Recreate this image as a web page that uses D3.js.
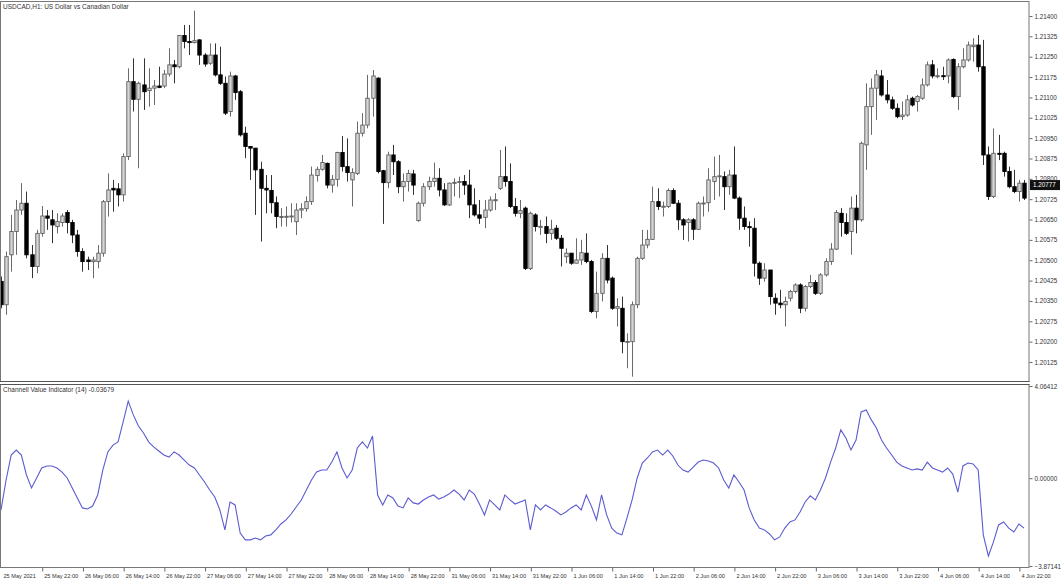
<!DOCTYPE html>
<html><head><meta charset="utf-8">
<script src="https://cdn.jsdelivr.net/npm/d3@7"></script>
<style>
body{margin:0;background:#fff}
svg{display:block}
text{font-family:"Liberation Sans",Arial,sans-serif;fill:#333}
</style>
</head><body>
<svg id="chart" width="1062" height="587"></svg>
<script>
const symbolTitle = "USDCAD,H1:  US Dollar vs Canadian Dollar";
const indicatorTitle = "Channell Value Indicator (14) -0.03679";
const lastPrice = 1.20777;

const opens = [1.20422,1.20336,1.20520,1.20606,1.20685,1.20710,1.20520,1.20477,1.20599,1.20663,
1.20649,1.20624,1.20639,1.20676,1.20639,1.20593,1.20532,1.20501,1.20495,1.20495,
1.20526,1.20716,1.20765,1.20763,1.20741,1.20882,1.21158,1.21093,1.21146,1.21125,
1.21134,1.21142,1.21142,1.21186,1.21220,1.21213,1.21328,1.21306,1.21302,1.21312,
1.21256,1.21226,1.21256,1.21183,1.21152,1.21048,1.21179,1.21121,1.20968,1.20919,
1.20913,1.20835,1.20765,1.20757,1.20712,1.20661,1.20661,1.20662,1.20642,1.20685,
1.20690,1.20716,1.20812,1.20835,1.20857,1.20777,1.20798,1.20897,1.20845,1.20796,
1.20820,1.20968,1.20998,1.21097,1.21171,1.20830,1.20786,1.20888,1.20863,1.20771,
1.20790,1.20818,1.20646,1.20710,1.20771,1.20790,1.20802,1.20759,1.20704,1.20784,
1.20787,1.20790,1.20777,1.20704,1.20667,1.20658,1.20685,1.20722,1.20765,1.20808,
1.20790,1.20698,1.20673,1.20692,1.20470,1.20667,1.20624,1.20624,1.20599,1.20618,
1.20581,1.20513,1.20526,1.20489,1.20501,1.20526,1.20495,1.20311,1.20378,1.20507,
1.20434,1.20323,1.20323,1.20200,1.20200,1.20336,1.20507,1.20556,1.20577,1.20716,
1.20698,1.20698,1.20757,1.20710,1.20649,1.20639,1.20649,1.20614,1.20710,1.20712,
1.20790,1.20808,1.20808,1.20771,1.20814,1.20729,1.20655,1.20624,1.20618,1.20489,
1.20434,1.20464,1.20360,1.20342,1.20336,1.20360,1.20385,1.20409,1.20323,1.20403,
1.20418,1.20378,1.20446,1.20495,1.20541,1.20673,1.20639,1.20606,1.20692,1.20649,
1.20925,1.21066,1.21134,1.21179,1.21109,1.21091,1.21060,1.21029,1.21035,1.21097,
1.21085,1.21097,1.21146,1.21220,1.21179,1.21180,1.21179,1.21240,1.21103,1.21213,
1.21238,1.21287,1.21293,1.21213,1.20888,1.20735,1.20894,1.20894,1.20827,1.20771,
1.20753,1.20784];

const highs = [1.20440,1.20532,1.20667,1.20722,1.20784,1.20753,1.20556,1.20612,1.20700,1.20685,
1.20685,1.20673,1.20673,1.20685,1.20649,1.20612,1.20544,1.20513,1.20513,1.20556,
1.20722,1.20820,1.20796,1.20784,1.20894,1.21207,1.21244,1.21158,1.21244,1.21207,
1.21164,1.21213,1.21201,1.21281,1.21238,1.21330,1.21367,1.21367,1.21420,1.21314,
1.21263,1.21299,1.21299,1.21287,1.21177,1.21195,1.21183,1.21127,1.20992,1.20919,
1.20913,1.20863,1.20814,1.20814,1.20735,1.20692,1.20698,1.20710,1.20710,1.20710,
1.20735,1.20845,1.20845,1.20888,1.20860,1.20814,1.20900,1.20958,1.20949,1.20839,
1.21011,1.21042,1.21183,1.21201,1.21174,1.20833,1.20900,1.20925,1.20869,1.20820,
1.20833,1.20833,1.20716,1.20784,1.20808,1.20860,1.20839,1.20784,1.20786,1.20802,
1.20808,1.20814,1.20833,1.20765,1.20722,1.20722,1.20735,1.20747,1.20906,1.20919,
1.20857,1.20729,1.20722,1.20698,1.20679,1.20673,1.20649,1.20661,1.20649,1.20630,
1.20593,1.20544,1.20526,1.20581,1.20575,1.20599,1.20501,1.20458,1.20526,1.20556,
1.20440,1.20360,1.20366,1.20231,1.20348,1.20513,1.20612,1.20612,1.20771,1.20765,
1.20716,1.20765,1.20765,1.20722,1.20655,1.20655,1.20655,1.20716,1.20735,1.20839,
1.20882,1.20888,1.20827,1.20833,1.20919,1.20735,1.20698,1.20643,1.20655,1.20495,
1.20489,1.20464,1.20378,1.20391,1.20366,1.20391,1.20415,1.20415,1.20409,1.20446,
1.20427,1.20452,1.20507,1.20563,1.20685,1.20692,1.20673,1.20735,1.20741,1.20937,
1.21152,1.21170,1.21201,1.21201,1.21164,1.21103,1.21078,1.21085,1.21109,1.21103,
1.21109,1.21170,1.21232,1.21238,1.21207,1.21213,1.21244,1.21244,1.21226,1.21281,
1.21306,1.21318,1.21330,1.21312,1.20919,1.20986,1.20962,1.20900,1.20845,1.20833,
1.20796,1.20796];

const lows = [1.20323,1.20299,1.20458,1.20520,1.20667,1.20507,1.20434,1.20452,1.20587,1.20612,
1.20563,1.20599,1.20624,1.20599,1.20563,1.20513,1.20458,1.20464,1.20434,1.20470,
1.20513,1.20661,1.20679,1.20698,1.20716,1.20869,1.21048,1.20839,1.21054,1.21066,
1.21072,1.21134,1.21134,1.21177,1.21152,1.21207,1.21281,1.21256,1.21299,1.21220,
1.21213,1.21220,1.21177,1.21146,1.21035,1.21029,1.21091,1.20956,1.20876,1.20796,
1.20667,1.20569,1.20673,1.20673,1.20618,1.20624,1.20624,1.20639,1.20593,1.20655,
1.20679,1.20704,1.20790,1.20830,1.20765,1.20749,1.20771,1.20827,1.20790,1.20698,
1.20814,1.20956,1.20986,1.21029,1.20820,1.20634,1.20765,1.20814,1.20747,1.20716,
1.20753,1.20741,1.20642,1.20698,1.20759,1.20771,1.20735,1.20700,1.20700,1.20735,
1.20729,1.20741,1.20655,1.20661,1.20634,1.20618,1.20679,1.20685,1.20759,1.20771,
1.20692,1.20661,1.20655,1.20464,1.20464,1.20606,1.20593,1.20563,1.20575,1.20575,
1.20477,1.20489,1.20483,1.20489,1.20483,1.20489,1.20305,1.20286,1.20348,1.20415,
1.20317,1.20256,1.20157,1.20102,1.20071,1.20323,1.20501,1.20544,1.20575,1.20685,
1.20661,1.20692,1.20707,1.20612,1.20575,1.20569,1.20575,1.20612,1.20661,1.20679,
1.20722,1.20735,1.20685,1.20741,1.20725,1.20612,1.20612,1.20550,1.20440,1.20409,
1.20421,1.20336,1.20299,1.20323,1.20256,1.20348,1.20378,1.20305,1.20311,1.20397,
1.20372,1.20372,1.20440,1.20483,1.20538,1.20587,1.20593,1.20520,1.20599,1.20642,
1.20833,1.20962,1.21017,1.21103,1.21078,1.21054,1.21023,1.21017,1.21029,1.21066,
1.21048,1.21091,1.21140,1.21170,1.21170,1.21164,1.21152,1.21097,1.21054,1.21207,
1.21232,1.21232,1.21195,1.20851,1.20722,1.20729,1.20869,1.20808,1.20765,1.20747,
1.20716,1.20722];

const closes = [1.20336,1.20513,1.20606,1.20685,1.20710,1.20520,1.20477,1.20599,1.20663,1.20655,
1.20630,1.20643,1.20663,1.20639,1.20593,1.20532,1.20495,1.20495,1.20501,1.20526,
1.20716,1.20759,1.20759,1.20741,1.20882,1.21158,1.21093,1.21152,1.21121,1.21134,
1.21142,1.21137,1.21186,1.21220,1.21213,1.21328,1.21306,1.21302,1.21309,1.21256,
1.21223,1.21256,1.21183,1.21152,1.21042,1.21179,1.21118,1.20962,1.20919,1.20913,
1.20833,1.20765,1.20759,1.20712,1.20661,1.20661,1.20662,1.20663,1.20685,1.20690,
1.20716,1.20814,1.20835,1.20860,1.20777,1.20798,1.20897,1.20845,1.20823,1.20823,
1.20968,1.20998,1.21097,1.21179,1.20827,1.20786,1.20888,1.20863,1.20771,1.20790,
1.20820,1.20777,1.20710,1.20771,1.20790,1.20802,1.20759,1.20704,1.20784,1.20787,
1.20790,1.20777,1.20704,1.20667,1.20655,1.20685,1.20722,1.20723,1.20808,1.20790,
1.20698,1.20673,1.20683,1.20470,1.20673,1.20624,1.20625,1.20599,1.20614,1.20581,
1.20544,1.20526,1.20489,1.20501,1.20528,1.20495,1.20311,1.20378,1.20507,1.20427,
1.20323,1.20329,1.20200,1.20201,1.20336,1.20507,1.20556,1.20577,1.20716,1.20698,
1.20699,1.20757,1.20710,1.20649,1.20630,1.20649,1.20614,1.20710,1.20711,1.20796,
1.20808,1.20811,1.20771,1.20814,1.20729,1.20655,1.20624,1.20620,1.20489,1.20434,
1.20464,1.20366,1.20342,1.20336,1.20348,1.20385,1.20409,1.20323,1.20403,1.20418,
1.20378,1.20446,1.20495,1.20541,1.20676,1.20639,1.20599,1.20692,1.20649,1.20931,
1.21066,1.21134,1.21183,1.21109,1.21091,1.21060,1.21029,1.21035,1.21091,1.21072,
1.21103,1.21146,1.21220,1.21179,1.21180,1.21179,1.21238,1.21103,1.21213,1.21238,
1.21293,1.21293,1.21213,1.20888,1.20735,1.20894,1.20893,1.20827,1.20771,1.20753,
1.20784,1.20729];

const cviValues = [-1.40,-0.08,1.02,1.24,1.02,0.14,-0.43,0.01,0.45,0.54,
0.54,0.45,0.27,0.01,-0.43,-0.87,-1.31,-1.36,-1.23,-0.74,
0.36,1.16,1.46,1.60,2.48,3.40,2.79,2.30,1.99,1.60,
1.38,1.20,1.02,0.93,1.16,1.02,0.80,0.58,0.45,0.14,
-0.17,-0.52,-0.83,-1.40,-2.28,-1.05,-1.18,-2.42,-2.72,-2.72,
-2.64,-2.72,-2.55,-2.50,-2.28,-2.02,-1.84,-1.58,-1.27,-0.96,
-0.52,-0.08,0.27,0.36,0.36,0.71,1.16,0.45,0.01,0.36,
1.33,1.60,1.33,1.86,-0.74,-1.18,-0.74,-0.87,-1.23,-1.31,
-0.87,-1.09,-1.14,-0.96,-0.83,-0.74,-0.92,-0.83,-0.70,-0.52,
-0.70,-0.96,-0.52,-0.70,-1.14,-1.62,-0.96,-1.18,-1.40,-0.74,
-0.96,-1.14,-1.05,-0.96,-2.28,-1.18,-1.40,-1.18,-1.31,-1.45,
-1.62,-1.49,-1.31,-1.18,-1.40,-0.74,-1.23,-1.84,-0.74,-1.62,
-2.20,-2.42,-2.50,-1.75,-0.96,0.01,0.67,0.89,1.16,1.24,
1.02,1.24,0.98,0.58,0.36,0.27,0.49,0.71,0.80,0.76,
0.67,0.45,-0.08,-0.43,0.14,-0.17,-0.52,-1.31,-1.84,-2.20,
-2.28,-2.46,-2.72,-2.59,-2.20,-1.93,-1.84,-1.49,-1.05,-0.78,
-0.96,-0.52,0.01,0.71,1.33,2.13,1.77,1.24,1.68,2.92,
3.01,2.57,2.21,1.68,1.33,1.02,0.71,0.54,0.45,0.36,
0.41,0.36,0.71,0.45,0.36,0.27,0.45,0.18,-0.61,0.54,
0.67,0.63,0.36,-2.50,-3.43,-2.81,-2.06,-1.93,-2.20,-2.37,
-2.02,-2.20];

const timeLabels = ["25 May 2021","25 May 22:00","26 May 06:00","26 May 14:00","26 May 22:00",
"27 May 06:00","27 May 14:00","27 May 22:00","28 May 06:00","28 May 14:00","28 May 22:00",
"31 May 06:00","31 May 14:00","31 May 22:00","1 Jun 06:00","1 Jun 14:00","1 Jun 22:00",
"2 Jun 06:00","2 Jun 14:00","2 Jun 22:00","3 Jun 06:00","3 Jun 14:00","3 Jun 22:00",
"4 Jun 06:00","4 Jun 14:00","4 Jun 22:00"];
const labelEvery = 8;

const priceTicks = [1.21400,1.21325,1.21250,1.21175,1.21100,1.21025,1.20950,1.20875,1.20800,
1.20725,1.20650,1.20575,1.20500,1.20425,1.20350,1.20275,1.20200,1.20125];
const cviTicks = [4.06412,0,-3.87141];

// ---------------------------------------------------------------
const svg = d3.select("#chart");
const plotRight = 1029;
const mainTop = 1.5, mainBottom = 381.5, subTop = 384.5, subBottom = 567.5;

const x = d3.scaleLinear().domain([0, opens.length - 1]).range([1, 1024]);
const y = d3.scaleLinear().domain([1.20125, 1.21400]).range([362, 16]);
const y2 = d3.scaleLinear().domain([-3.87141, 4.06412]).range([566, 386]);

svg.append("rect").attr("width", 1062).attr("height", 587).attr("fill", "#fff");

const defs = svg.append("defs");
defs.append("clipPath").attr("id", "clipMain").append("rect")
  .attr("x", 0).attr("y", mainTop).attr("width", plotRight).attr("height", mainBottom - mainTop);
defs.append("clipPath").attr("id", "clipSub").append("rect")
  .attr("x", 0).attr("y", subTop).attr("width", plotRight).attr("height", subBottom - subTop);

// candles
const bars = opens.map((o, i) => ({i, o, h: highs[i], l: lows[i], c: closes[i]}));
const cg = svg.append("g").attr("clip-path", "url(#clipMain)");
const cand = cg.selectAll("g.c").data(bars).join("g").attr("class", "c");
cand.append("line")
  .attr("x1", d => Math.round(x(d.i)) + 0.5)
  .attr("x2", d => Math.round(x(d.i)) + 0.5)
  .attr("y1", d => y(d.h)).attr("y2", d => y(d.l))
  .attr("stroke", d => d.c >= d.o ? "#6a6a6a" : "#333")
  .attr("stroke-width", 1);
cand.append("rect")
  .attr("x", d => Math.round(x(d.i)) - 1.2)
  .attr("width", 3.4)
  .attr("y", d => Math.min(y(d.o), y(d.c)))
  .attr("height", d => Math.max(1, Math.abs(y(d.o) - y(d.c))))
  .attr("fill", d => d.c >= d.o ? "#d6d6d6" : "#000")
  .attr("stroke", d => d.c >= d.o ? "#5e5e5e" : "#000")
  .attr("stroke-width", 0.9);

// indicator line
const line = d3.line().x((d, i) => x(i)).y(d => y2(d));
svg.append("g").attr("clip-path", "url(#clipSub)")
  .append("path").datum(cviValues)
  .attr("d", line).attr("fill", "none")
  .attr("stroke", "#5b5bd0").attr("stroke-width", 1.1);

// frames
const frame = svg.append("g").attr("fill", "none").attr("stroke", "#777").attr("stroke-width", 1);
frame.append("rect").attr("x", 0.5).attr("y", mainTop).attr("width", plotRight - 0.5).attr("height", mainBottom - mainTop);
frame.append("rect").attr("x", 0.5).attr("y", subTop).attr("width", plotRight - 0.5).attr("height", subBottom - subTop);
svg.append("line").attr("x1", 0).attr("x2", plotRight + 0.5).attr("y1", mainBottom).attr("y2", mainBottom).attr("stroke", "#555");
svg.append("line").attr("x1", 0).attr("x2", plotRight + 0.5).attr("y1", subTop).attr("y2", subTop).attr("stroke", "#555");

// right axis (price)
const yAxis = d3.axisRight(y).tickValues(priceTicks).tickSize(3).tickPadding(2)
  .tickFormat(d3.format(".5f"));
const ya = svg.append("g").attr("transform", `translate(${plotRight + 0.5},0)`).call(yAxis);
ya.select(".domain").remove();
ya.selectAll(".tick line").attr("stroke", "#666");
ya.selectAll(".tick text").attr("font-size", 6.3).attr("fill", "#333").attr("font-family", "Liberation Sans, Arial, sans-serif");

// right axis (indicator)
const y2Axis = d3.axisRight(y2).tickValues(cviTicks).tickSize(3).tickPadding(2)
  .tickFormat(d3.format(".5f"));
const y2a = svg.append("g").attr("transform", `translate(${plotRight + 0.5},0)`).call(y2Axis);
y2a.select(".domain").remove();
y2a.selectAll(".tick line").attr("stroke", "#666");
y2a.selectAll(".tick text").attr("font-size", 6.3).attr("fill", "#333").attr("font-family", "Liberation Sans, Arial, sans-serif");

// last price marker
const lp = svg.append("g").attr("transform", `translate(${plotRight + 1},${y(lastPrice)})`);
lp.append("rect").attr("x", 0).attr("y", -5).attr("width", 30).attr("height", 10).attr("fill", "#111");
lp.append("text").attr("x", 3).attr("y", 0).attr("dy", "0.35em").attr("font-size", 6.3)
  .style("fill", "#fff").text(lastPrice.toFixed(5));

// bottom time axis
const tickIdx = timeLabels.map((d, k) => k * labelEvery);
const xAxis = d3.axisBottom(x).tickValues(tickIdx).tickSize(4).tickPadding(3)
  .tickFormat(d => timeLabels[d / labelEvery]);
const xa = svg.append("g").attr("transform", `translate(0.5,${subBottom})`).call(xAxis);
xa.select(".domain").remove();
xa.selectAll(".tick line").attr("stroke", "#666");
xa.selectAll(".tick text").attr("text-anchor", "start").attr("dx", 1.5)
  .attr("font-size", 5.6).attr("fill", "#333").attr("font-family", "Liberation Sans, Arial, sans-serif");
xa.selectAll(".tick").filter(d => d === 0).select("line").remove();

// titles
svg.append("text").attr("x", 3).attr("y", 9).attr("font-size", 6.5).text(symbolTitle);
svg.append("text").attr("x", 3).attr("y", 392).attr("font-size", 6.5).text(indicatorTitle);
</script>
</body></html>
